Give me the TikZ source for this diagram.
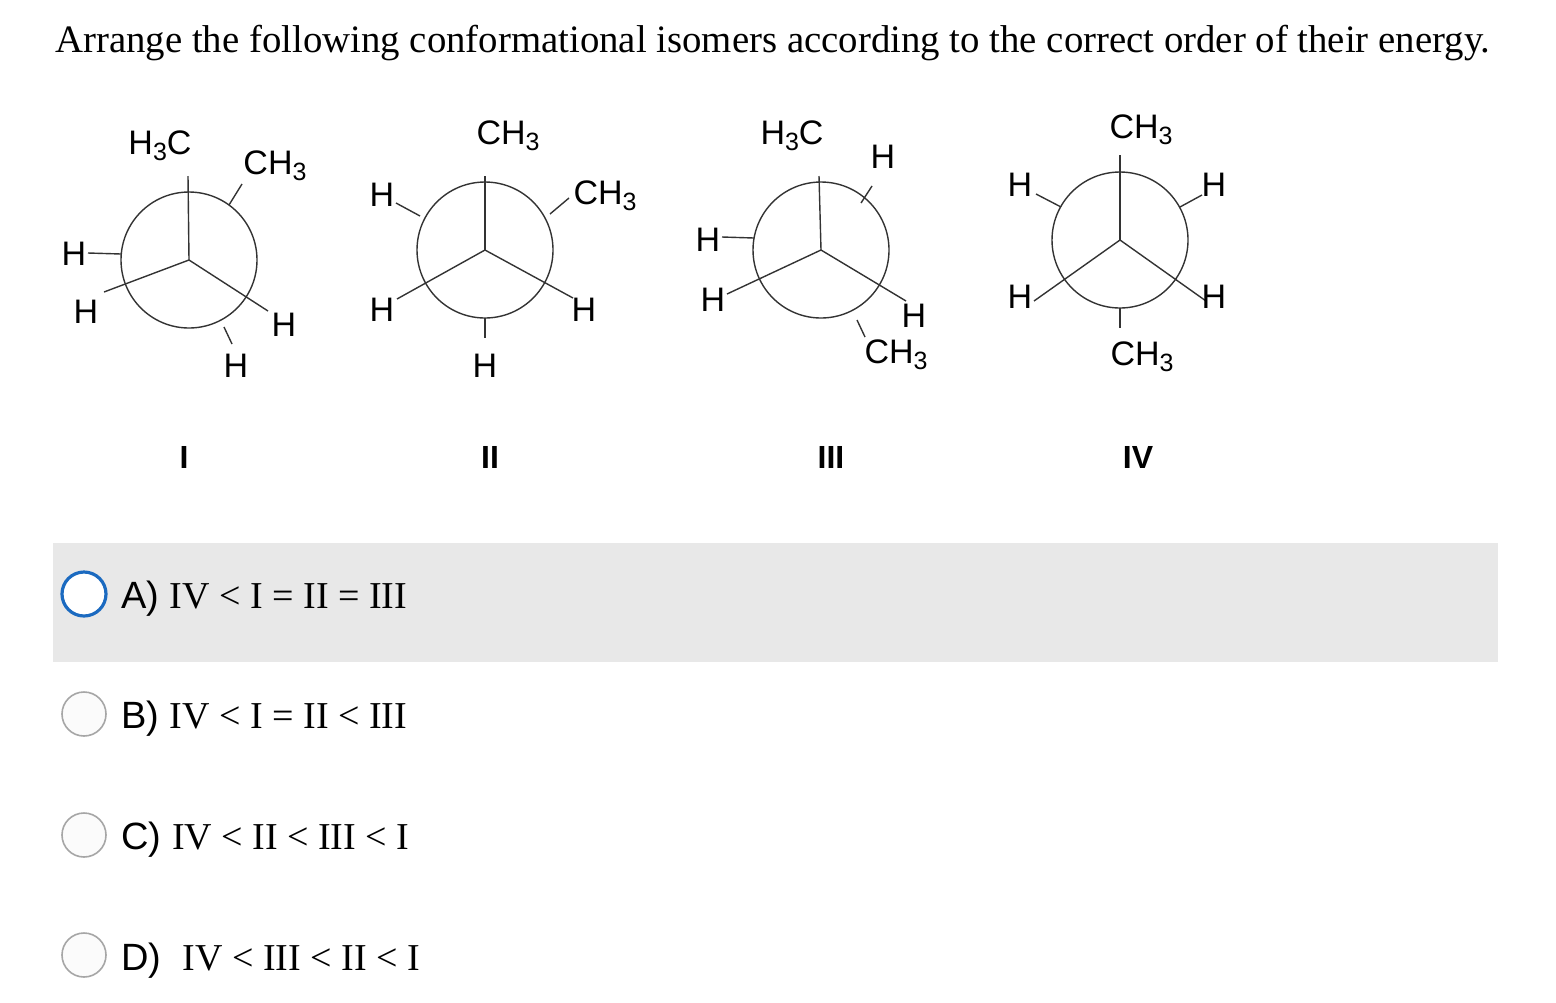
\documentclass[tikz,border=0pt]{standalone}
\usepackage{fontspec}
\setmainfont{Liberation Serif}
\setsansfont{Liberation Sans}
\definecolor{radblue}{HTML}{1B6AC0}
\newcommand{\thr}{\raisebox{-0.35ex}{\fontsize{12.5}{12.5}\selectfont 3}}
\begin{document}
\begin{tikzpicture}[x=0.5pt,y=-0.5pt,
  lab/.style={font=\sffamily\fontsize{17}{17}\selectfont,inner sep=0pt},
  bond/.style={line width=0.7pt,black!80},
  rad/.style={draw=gray!70,fill=gray!3,line width=0.8pt},
  opt/.style={anchor=base west,inner sep=0pt,font=\fontsize{19}{19}\selectfont},
  num/.style={font=\sffamily\bfseries\fontsize{16}{16}\selectfont,inner sep=0pt}]
\useasboundingbox (0,0) rectangle (1556,1002);
\node[anchor=base west,inner sep=0pt,font=\fontsize{19.4}{19.4}\selectfont] (title) at (55,52) {Arrange the following conformational isomers according to the correct order of their energy.};
% I
\draw[bond] (189,260) circle (68);
\draw[bond] (189,260) -- (188,176);
\draw[bond] (189,260) -- (104,292);
\draw[bond] (189,260) -- (268,311);
\draw[bond] (229,205) -- (242,184);
\draw[bond] (121,254) -- (88,253);
\draw[bond] (224,327) -- (232,344);
\node[lab] (a1) at (160,146) {H\thr C};
\node[lab] (a2) at (275,166) {CH\thr};
\node[lab] (a3) at (74,254) {H};
\node[lab] (a4) at (86,312) {H};
\node[lab] (a5) at (284,325) {H};
\node[lab] (a6) at (236,366) {H};
% II
\draw[bond] (485,250) circle (68);
\draw[bond] (485,250) -- (485,176);
\draw[bond] (485,250) -- (397,299);
\draw[bond] (485,250) -- (573,298);
\draw[bond] (420,216) -- (396,203);
\draw[bond] (550,214) -- (569,198);
\draw[bond] (485,318) -- (485,338);
\node[lab] (b1) at (508,136) {CH\thr};
\node[lab] (b2) at (382,195) {H};
\node[lab] (b3) at (605,196) {CH\thr};
\node[lab] (b4) at (382,310) {H};
\node[lab] (b5) at (584,310) {H};
\node[lab] (b6) at (485,366) {H};
% III
\draw[bond] (821,250) circle (68);
\draw[bond] (821,250) -- (819,176);
\draw[bond] (821,250) -- (727,294);
\draw[bond] (821,250) -- (906,301);
\draw[bond] (754,238) -- (722,237);
\draw[bond] (861,203) -- (872,186);
\draw[bond] (857,320) -- (865,337);
\node[lab] (c1) at (792,136) {H\thr C};
\node[lab] (c2) at (883,157) {H};
\node[lab] (c3) at (708,240) {H};
\node[lab] (c4) at (713,300) {H};
\node[lab] (c5) at (914,316) {H};
\node[lab] (c6) at (896,355) {CH\thr};
% IV
\draw[bond] (1120,240) circle (68);
\draw[bond] (1120,240) -- (1120,155);
\draw[bond] (1120,240) -- (1034,301);
\draw[bond] (1120,240) -- (1206,301);
\draw[bond] (1061,207) -- (1036,194);
\draw[bond] (1180,207) -- (1202,195);
\draw[bond] (1120,308) -- (1120,328);
\node[lab] (d1) at (1141,130) {CH\thr};
\node[lab] (d2) at (1020,185) {H};
\node[lab] (d3) at (1214,185) {H};
\node[lab] (d4) at (1020,297) {H};
\node[lab] (d5) at (1214,297) {H};
\node[lab] (d6) at (1142,357) {CH\thr};
% numerals
\node[num] (n1) at (184,457) {I};
\node[num] (n2) at (490,457) {II};
\node[num] (n3) at (831,457) {III};
\node[num] (n4) at (1138,457) {IV};
% options
\fill[gray!18] (53,543) rectangle (1498,662);
\draw[draw=radblue,line width=1.6pt,fill=white] (84,594) circle (22);
\draw[rad] (84,714) circle (22);
\draw[rad] (84,835) circle (22);
\draw[rad] (84,955) circle (22);
\node[opt] (oa) at (121,608) {\sffamily A)\ \rmfamily IV < I = II = III};
\node[opt] (ob) at (121,728) {\sffamily B)\ \rmfamily IV < I = II < III};
\node[opt] (oc) at (121,849) {\sffamily C)\ \rmfamily IV < II < III < I};
\node[opt] (od) at (121,970) {\sffamily D)\ \ \rmfamily IV < III < II < I};
\end{tikzpicture}
\end{document}
